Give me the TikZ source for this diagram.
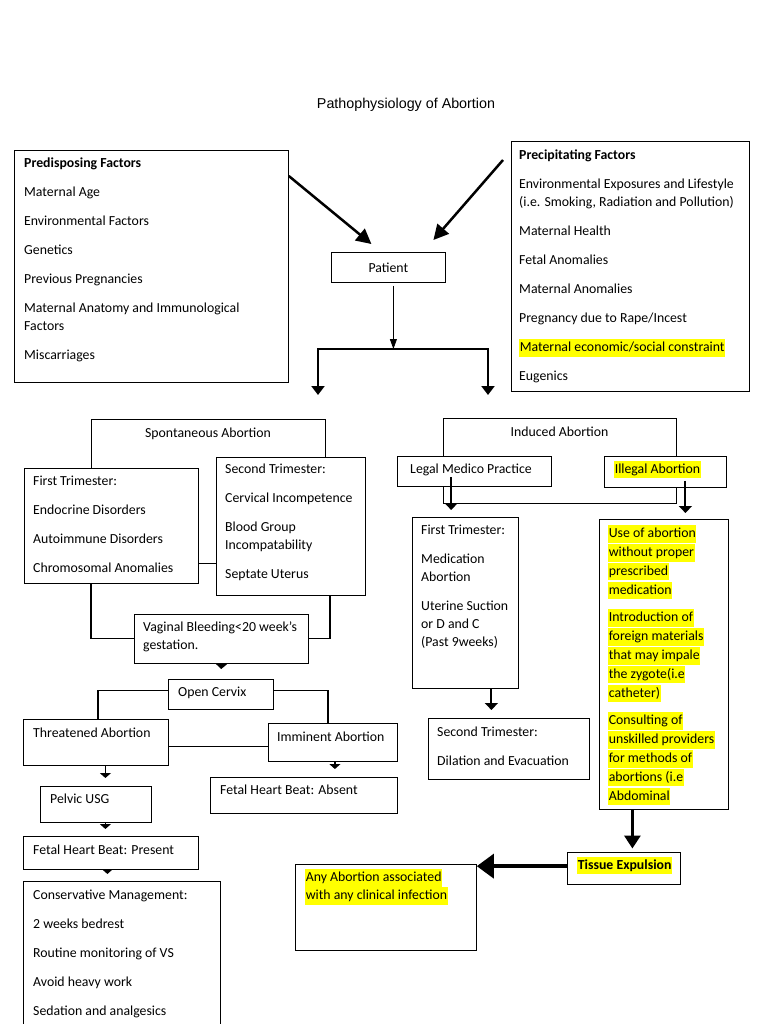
\documentclass[tikz,border=0pt]{standalone}
\usepackage{fontspec}
\setmainfont{Carlito}
\newfontfamily\titlefont{Liberation Sans}
\usetikzlibrary{arrows.meta,positioning}
\definecolor{hlyellow}{RGB}{255,255,0}
\newcommand{\hl}[1]{{\setlength{\fboxsep}{0.6pt}\colorbox{hlyellow}{\rule[-4.5pt]{0pt}{16.5pt}#1}}}
\newcommand{\firstline}{\rule{0pt}{12.6pt}}

\begin{document}
\begin{tikzpicture}[x=1pt, y=-1pt, font=\fontsize{13.8}{18}\selectfont,
  box/.style={draw, line width=0.8pt, fill=white, inner sep=0pt, anchor=north west},
  txt/.style={anchor=north west, yshift=12.6pt, align=left, inner sep=0pt},
  lbl/.style={anchor=base, inner sep=0pt},
  link/.style={line width=1.6pt},
  bigarr/.style={line width=2.5pt, -{Triangle[length=15pt,width=15pt]}},
  brarr/.style={line width=2.2pt, -{Triangle[length=9pt,width=13pt]}},
  thinarr/.style={line width=0.8pt, -{Triangle[length=10pt,width=7pt]}},
  smallarr/.style={line width=1.6pt, -{Triangle[length=5pt,width=11pt]}},
  legarr/.style={line width=2pt, -{Triangle[length=7pt,width=13pt]}},
  fatarr/.style={line width=3pt, -{Triangle[length=13pt,width=16pt]}}]
\fill[white] (0,0) rectangle (768,1024);
\useasboundingbox (0,0) rectangle (768,1024);

\node[lbl, font=\titlefont\fontsize{14.3}{17}\selectfont] (title) at (406,109) {Pathophysiology of Abortion};

% factors and patient
\node[box, minimum width=274pt, minimum height=232pt] (pre) at (14,150) {};
\node[txt] (pretxt) at (24,167.5) {\firstline\textbf{Predisposing Factors}\\[11pt] Maternal Age\\[11pt] Environmental Factors\\[11pt] Genetics\\[11pt] Previous Pregnancies\\[11pt] Maternal Anatomy and Immunological\\ Factors\\[11pt] Miscarriages};
\node[box, minimum width=238pt, minimum height=250pt] (prec) at (511,141) {};
\node[txt] (prectxt) at (519,159.5) {\firstline\textbf{Precipitating Factors}\\[11pt] Environmental Exposures and Lifestyle\\ (i.e. Smoking, Radiation and Pollution)\\[11pt] Maternal Health\\[11pt] Fetal Anomalies\\[11pt] Maternal Anomalies\\[11pt] Pregnancy due to Rape/Incest\\[11pt] \hl{Maternal economic/social constraint}\\[11pt] Eugenics};
\node[box, minimum width=114pt, minimum height=30pt] (patient) at (331,252) {Patient};

% spontaneous side
\node[box, minimum width=234pt, minimum height=144pt] (spont) at (91,419) {};
\node[lbl] (sponttxt) at (208,437) {Spontaneous Abortion};
\node[box, minimum width=174pt, minimum height=115pt] (sp1) at (24,468) {};
\node[txt] (sp1txt) at (33,485.5) {\firstline First Trimester:\\[11pt] Endocrine Disorders\\[11pt] Autoimmune Disorders\\[11pt] Chromosomal Anomalies};
\node[box, minimum width=149pt, minimum height=138pt] (sp2) at (216,457) {};
\node[txt] (sp2txt) at (225,473.5) {\firstline Second Trimester:\\[11pt] Cervical Incompetence\\[11pt] Blood Group\\ Incompatability\\[11pt] Septate Uterus};
\draw[link] (sp1.south -| spont.west) |- (134,638.5);
\draw[link] ([xshift=4pt]sp2.south -| spont.east) |- (308,638.5);
\node[box, minimum width=174pt, minimum height=49pt] (vag) at (134,614) {};
\node[txt] (vagtxt) at (143,631.5) {\firstline Vaginal Bleeding<20 week's\\ gestation.};

\node[box, minimum width=145pt, minimum height=46pt] (thr) at (23,719) {};
\node[txt] (thrtxt) at (33,737) {\firstline Threatened Abortion};
\node[box, minimum width=129pt, minimum height=38pt] (imm) at (268,723) {};
\node[txt] (immtxt) at (277,741.5) {\firstline Imminent Abortion};
\node[box, minimum width=105pt, minimum height=30pt] (oc) at (168,679) {};
\node[txt] (octxt) at (178,696.5) {\firstline Open Cervix};
\draw[link] ([yshift=4pt]oc.west) -| ([xshift=75pt]thr.north west);
\draw[link] ([yshift=4pt]oc.east) -| ([xshift=60pt]imm.north west);
\draw[line width=0.8pt] ([yshift=-4pt]thr.east) -- ([yshift=-4pt]thr.east -| imm.west);
\node[box, minimum width=111pt, minimum height=36pt] (pelv) at (40,786) {};
\node[txt] (pelvtxt) at (50,803.5) {\firstline Pelvic USG};
\node[box, minimum width=187pt, minimum height=36pt] (absent) at (210,777) {};
\node[txt] (absenttxt) at (220,794.5) {\firstline Fetal Heart Beat: Absent};
\node[box, minimum width=175pt, minimum height=33pt] (present) at (23,836) {};
\node[txt] (presenttxt) at (33,854) {\firstline Fetal Heart Beat: Present};
\node[box, minimum width=197pt, minimum height=150pt] (cons) at (23,881) {};
\node[txt] (constxt) at (33,899) {\firstline Conservative Management:\\[11pt] 2 weeks bedrest\\[11pt] Routine monitoring of VS\\[11pt] Avoid heavy work\\[11pt] Sedation and analgesics};

% induced side
\node[box, minimum width=233pt, minimum height=85pt] (ind) at (443,418) {};
\node[lbl] (indtxt) at (559.5,436) {Induced Abortion};
\node[box, minimum width=153.5pt, minimum height=30pt] (legal) at (397,455.5) {};
\node[txt] (legaltxt) at (410,473) {\firstline Legal Medico Practice};
\node[box, minimum width=122pt, minimum height=31pt] (illegal) at (604,456) {};
\node[txt] (illegaltxt) at (614,473) {\firstline\hl{Illegal Abortion}};
\node[box, minimum width=106pt, minimum height=171pt] (ft) at (412,517) {};
\node[txt] (fttxt) at (421,534) {\firstline First Trimester:\\[11pt] Medication\\ Abortion\\[11pt] Uterine Suction\\ or D and C\\ (Past 9weeks)};
\node[box, minimum width=160.5pt, minimum height=60.5pt] (st) at (428,718) {};
\node[txt] (sttxt) at (437,736.5) {\firstline Second Trimester:\\[11pt] Dilation and Evacuation};
\node[box, minimum width=129pt, minimum height=290pt] (list) at (599,519) {};
\node[txt] (listtxt) at (608,537.5) {\firstline\hl{Use of abortion}\\[0.8pt] \hl{without proper}\\[0.8pt] \hl{prescribed}\\[0.8pt] \hl{medication}\\[9.8pt] \hl{Introduction of}\\[0.8pt] \hl{foreign materials}\\[0.8pt] \hl{that may impale}\\[0.8pt] \hl{the zygote(i.e}\\[0.8pt] \hl{catheter)}\\[9.8pt] \hl{Consulting of}\\[0.8pt] \hl{unskilled providers}\\[0.8pt] \hl{for methods of}\\[0.8pt] \hl{abortions (i.e}\\[0.8pt] \hl{Abdominal}};
\node[box, minimum width=113pt, minimum height=32.5pt] (tissue) at (567,851.5) {};
\node[txt] (tissuetxt) at (577,869) {\firstline\hl{\textbf{Tissue Expulsion}}};
\node[box, minimum width=181pt, minimum height=86pt] (any) at (295,864) {};
\node[txt] (anytxt) at (305,881.5) {\firstline\hl{Any Abortion associated}\\ \hl{with any clinical infection}};

% arrows
\coordinate (brL) at (318,349);
\coordinate (brR) at (488,349);
\draw[bigarr] ([yshift=-26pt]pre.north east) -- ([xshift=-17pt,yshift=8pt]patient.north);
\draw[bigarr] ([xshift=-8pt,yshift=-19pt]prec.north west) -- ([xshift=45pt,yshift=12pt]patient.north);
\draw[thinarr] ([xshift=5pt,yshift=-3pt]patient.south) -- ([xshift=5pt]patient.south |- brL);
\draw[line width=2.5pt] (brL) -- (brR);
\draw[brarr] ([yshift=1pt]brL) -- (spont.north -| brL) [shorten >=24pt];
\draw[brarr] ([yshift=1pt]brR) -- (ind.north -| brR) [shorten >=23pt];
\draw[smallarr] (vag.south) -- (oc.north) [shorten >=10pt];
\draw[smallarr] ([xshift=9.5pt]thr.south) -- ([xshift=9.5pt]thr.south |- pelv.north) [shorten >=8pt];
\draw[smallarr] ([xshift=2pt]imm.south) -- ([xshift=2pt]imm.south |- absent.north) [shorten >=8pt];
\draw[smallarr] ([xshift=9.5pt]pelv.south) -- ([xshift=9.5pt]pelv.south |- present.north) [shorten >=7pt];
\draw[smallarr] ([xshift=-3.5pt]present.south) -- ([xshift=-3.5pt]present.south |- cons.north) [shorten >=7pt];
\draw[legarr] ([xshift=-23pt,yshift=9pt]legal.south) -- ([xshift=-23pt]legal.south |- ft.north) [shorten >=7pt];
\draw[legarr] ([xshift=20pt,yshift=7pt]illegal.south) -- ([xshift=20pt]illegal.south |- list.north) [shorten >=6pt];
\draw[legarr] ([xshift=26pt]ft.south) -- ([xshift=26pt]ft.south |- st.north) [shorten >=8pt];
\draw[fatarr] ([xshift=-31.5pt]list.south) -- ([xshift=-31.5pt]list.south |- tissue.north) [shorten >=3pt];
\draw[line width=3.5pt, -{Triangle[length=17pt,width=24pt]}] ([yshift=2pt]tissue.west) -- ([yshift=2pt]tissue.west -| any.east);
\end{tikzpicture}
\end{document}
